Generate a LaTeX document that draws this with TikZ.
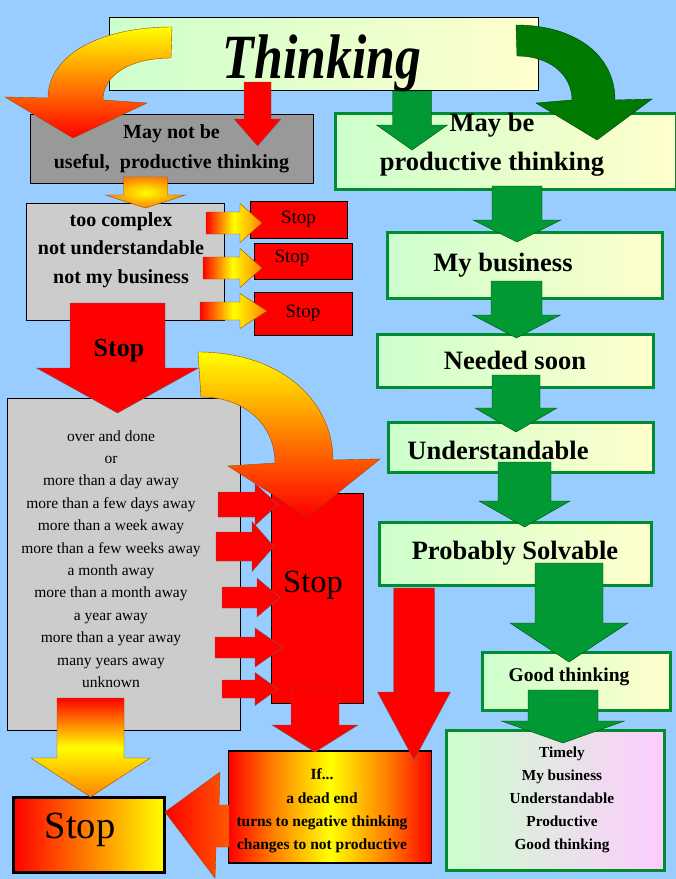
\documentclass[tikz,border=0pt]{standalone}
\usepackage{fontspec}
\setmainfont{Liberation Serif}
\newfontfamily\thinkfont[FakeStretch=0.82]{Liberation Serif}
\usepackage{xcolor}

\definecolor{skyblue}{HTML}{99CCFF}
\definecolor{lgreen}{HTML}{CCFFCC}
\definecolor{lyellow}{HTML}{FFFFCC}
\definecolor{lpink}{HTML}{FFCCFF}
\definecolor{dgrey}{HTML}{999999}
\definecolor{lgrey}{HTML}{CCCCCC}
\definecolor{boxgreen}{HTML}{008C30}
\definecolor{arrowgreen}{HTML}{009933}
\definecolor{darkgreen}{HTML}{007A00}

\pgfdeclarehorizontalshading{ifshade}{100bp}{color(0bp)=(red); color(25bp)=(red); color(36bp)=(orange); color(50bp)=(yellow); color(64bp)=(orange); color(75bp)=(red); color(100bp)=(red)}

% block arrows: [style] centre x, half shaft, top y, half head, base y, tip y
\newcommand{\downblock}[7][]{%
  \path[#1] ({#2-#3},#4) -- ({#2+#3},#4) -- ({#2+#3},#6) -- ({#2+#5},#6)
    -- (#2,#7) -- ({#2-#5},#6) -- ({#2-#3},#6) -- cycle;}
% [style] tail x, centre y, half shaft, base x, half head, tip x
\newcommand{\rightblock}[7][]{%
  \path[#1] (#2,{#3-#4}) -- (#5,{#3-#4}) -- (#5,{#3-#6}) -- (#7,#3)
    -- (#5,{#3+#6}) -- (#5,{#3+#4}) -- (#2,{#3+#4}) -- cycle;}

\begin{document}
\begin{tikzpicture}[
    x=1pt, y=-1pt,
    box/.style={draw, inner sep=0pt},
    darkbox/.style={box, fill=dgrey},
    greybox/.style={box, fill=lgrey},
    stopbox/.style={box, fill=red, font=\fontsize{19}{22}\selectfont},
    greenbox/.style={box, draw=boxgreen, line width=3pt, left color=lgreen, right color=lyellow,
        font=\bfseries\fontsize{26.5}{30}\selectfont},
    bigtext/.style={font=\bfseries\fontsize{26.5}{39}\selectfont, align=center},
    redarrow/.style={draw=black!60, fill=red},
    greenarrow/.style={draw=green!30!black, fill=arrowgreen},
    firearrow/.style={draw=orange!60!black}
]
    \useasboundingbox (0,0) rectangle (676,879);
    \fill[skyblue] (0,0) rectangle (676,879);

    % Boxes, left side
    \node[box, left color=lgreen, right color=lyellow, minimum width=429pt, minimum height=73pt] (think) at (323.5,53.5) {};
    \node[darkbox, minimum width=283pt, minimum height=69pt, align=center,
        font=\bfseries\fontsize{20}{30}\selectfont] (maynot) at (171.5,148.5) {May not be\\useful,\ \ productive thinking};
    \node[greybox, minimum width=198pt, minimum height=117pt] (complex) at (125,261.5) {};
    \node[stopbox, minimum width=97pt, minimum height=37pt] (stopA) at (298.5,219.5) {Stop};
    \node[stopbox, minimum width=98pt, minimum height=36pt] (stopB) at (303,261) {};
    \node[stopbox, minimum width=98pt, minimum height=43pt] (stopC) at (303,313.5) {Stop};
    \node[greybox, minimum width=233pt, minimum height=332pt] (later) at (123.5,564) {};
    \node[box, fill=red, minimum width=92pt, minimum height=210pt] (stopbig) at (317,598) {};
    \node[box, line width=1.5pt, shading=ifshade, minimum width=203pt, minimum height=112pt] (deadend) at (330,807) {};
    \node[box, line width=3pt, left color=red, right color=yellow, minimum width=151pt, minimum height=75pt] (stopend) at (88.5,834.5) {};

    % Boxes, right side
    \node[greenbox, minimum width=341pt, minimum height=76pt] (maybe) at (505.5,151) {};
    \node[greenbox, minimum width=275pt, minimum height=66pt] (mybiz) at (524.5,265) {};
    \node[greenbox, minimum width=276pt, minimum height=53pt] (soon) at (515,360.5) {Needed soon};
    \node[greenbox, minimum width=265pt, minimum height=50pt] (under) at (520.5,447) {};
    \node[greenbox, minimum width=272pt, minimum height=63pt] (solv) at (515,553.5) {Probably Solvable};
    \node[greenbox, minimum width=188pt, minimum height=58pt] (good) at (576,681) {};
    \node[box, draw=boxgreen, line width=3pt, left color=lgreen, middle color=lyellow, right color=lpink,
        minimum width=218pt, minimum height=140pt] (timely) at (555,800) {};

    % Curved arrows
    \path[firearrow, top color=yellow, bottom color=red] (172,27) .. controls (100,27) and (48,55) .. (48,98)
        -- (5,97) -- (73,138) -- (147,103) -- (103,100) .. controls (103,75) and (130,58) .. (171,58) -- cycle;
    \path[draw=green!25!black, fill=darkgreen] (516,25) .. controls (575,25) and (615,55) .. (615,100)
        -- (652,99) -- (597,140) -- (536,103) -- (572,100) .. controls (572,75) and (550,56) .. (517,56) -- cycle;

    % Straight arrows, left side
    \downblock[redarrow]{257.5}{13.5}{82}{23.5}{119}{146}
    \downblock[firearrow, inner color=yellow, outer color=orange]{145.5}{22}{177}{40}{195}{208}
    \rightblock[firearrow, left color=red, right color=orange, middle color=yellow]{206}{223}{11}{240}{19.5}{262}
    \rightblock[firearrow, left color=red, right color=orange, middle color=yellow]{203}{268}{11}{240}{19.5}{262}
    \rightblock[firearrow, left color=red, right color=orange, middle color=yellow]{200}{311}{9}{240}{17.5}{267}
    \downblock[redarrow]{117.5}{47.5}{303}{81}{368}{413}

    \path[firearrow, top color=yellow, bottom color=red, middle color=orange] (198,352) .. controls (280,352) and (333,400) .. (333,460)
        -- (380,459) -- (308,517) -- (228,466) -- (275,463) .. controls (275,425) and (245,397) .. (201,397) -- cycle;

    \rightblock[redarrow]{218}{504.5}{12.5}{255}{21}{278}
    \rightblock[redarrow]{216}{546.5}{14.5}{252}{25}{274}
    \rightblock[redarrow]{222}{597.5}{10.5}{257}{19.5}{280}
    \rightblock[redarrow]{215}{647.5}{10.5}{255}{19.5}{283}
    \rightblock[redarrow]{222}{689}{9}{255}{16.5}{278}
    \downblock[redarrow]{315}{24}{688}{43}{725}{752}
    \downblock[redarrow]{414}{20.5}{588}{36.5}{692}{760}
    \downblock[firearrow, top color=red, bottom color=orange, middle color=yellow]{90.5}{33.5}{698}{59.5}{758}{797}
    \path[firearrow, left color=red, right color=orange!70!red] (229,805) -- (219,805) -- (220,772) -- (165,812)
        -- (215,878) -- (216,847) -- (229,847) -- cycle;

    % Straight arrows, right side
    \downblock[greenarrow]{412}{19.5}{91}{35.5}{125}{150}
    \downblock[greenarrow]{517}{25}{186}{44}{220}{242}
    \downblock[greenarrow]{516.5}{25.5}{281}{44}{315}{338}
    \downblock[greenarrow]{516}{24}{375}{41}{408}{432}
    \downblock[greenarrow]{524.5}{26.5}{462}{45.5}{501}{527}
    \downblock[greenarrow]{569}{34}{563}{59}{623}{662}
    \downblock[greenarrow]{563}{35}{690}{61.5}{721}{743}

    % Texts
    \node[font=\thinkfont\bfseries\itshape\fontsize{63}{70}\selectfont] (thinktxt) at (322,63.5) {Thinking};
    \node[bigtext] (maybetxt) at (492,145) {May be\\productive thinking};
    \node[bigtext] (mybiztxt) at (503,265) {My business};
    \node[bigtext] (undertxt) at (498,450) {Understandable};
    \node[font=\bfseries\fontsize{19.5}{22}\selectfont] (goodtxt) at (569,677) {Good thinking};
    \node[align=center, font=\bfseries\fontsize{15.3}{23}\selectfont] (timelytxt) at (562,800)
        {Timely\\My business\\Understandable\\Productive\\Good thinking};
    \node[align=center, font=\bfseries\fontsize{20}{28.5}\selectfont] (complextxt) at (121,250)
        {too complex\\not understandable\\not my business};
    \node[font=\fontsize{19}{22}\selectfont] (stopBtxt) at (292,258) {Stop};
    \node[font=\bfseries\fontsize{26}{28}\selectfont] (stoparrtxt) at (119,351) {Stop};
    \node[font=\fontsize{32.5}{34}\selectfont] (stopbigtxt) at (313,585) {Stop};
    \node[align=center, font=\fontsize{15.5}{22.4}\selectfont] (latertxt) at (111,559)
        {over and done\\or\\more than a day away\\more than a few days away\\more than a week away\\
         more than a few weeks away\\a month away\\more than a month away\\a year away\\
         more than a year away\\many years away\\unknown};
    \node[align=center, font=\bfseries\fontsize{15.5}{23.3}\selectfont] (deadendtxt) at (322,811)
        {If...\\a dead end\\turns to negative thinking\\changes to not productive};
    \node[font=\fontsize{38.5}{40}\selectfont] (stopendtxt) at (80,830) {Stop};
\end{tikzpicture}
\end{document}
